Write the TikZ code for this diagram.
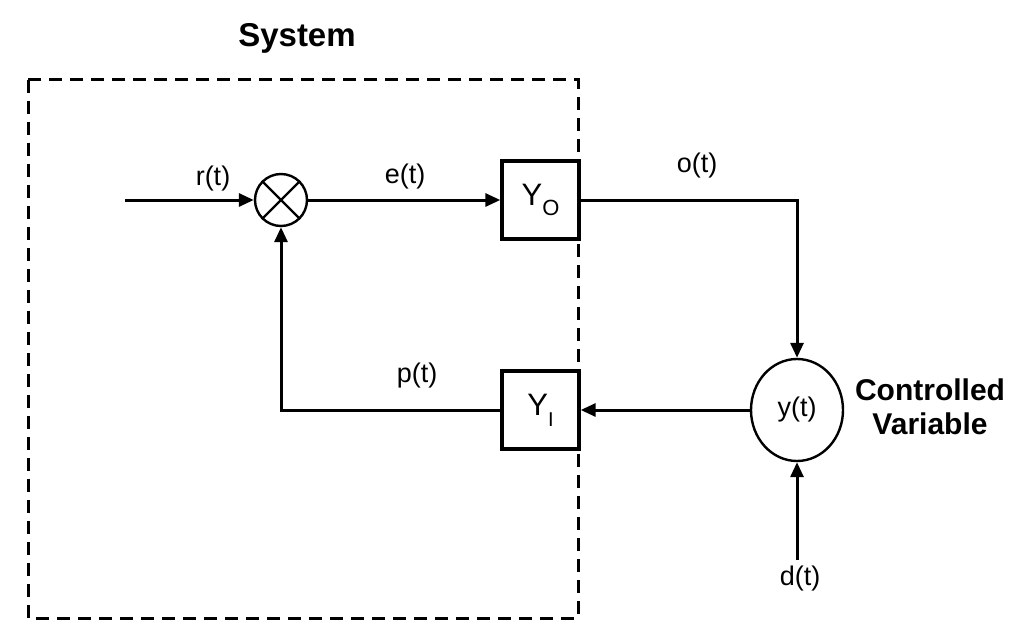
\documentclass[tikz,border=0pt]{standalone}
\usepackage{fontspec}
\setmainfont{Liberation Sans}
\usetikzlibrary{arrows.meta,shapes.geometric}
\begin{document}
\begin{tikzpicture}[x=1pt,y=-1pt,
  arr/.style={line width=3pt, -{Triangle[length=15pt,width=13pt]}},
  lbl/.style={font=\fontsize{27}{30}\selectfont, inner sep=0pt},
  bold/.style={font=\fontsize{30}{34}\selectfont\bfseries, inner sep=0pt, align=center},
  blk/.style={draw, line width=3.4pt, minimum width=77pt, minimum height=78pt, inner sep=0pt, font=\fontsize{31}{31}\selectfont}
]
\useasboundingbox (0,0) rectangle (1027,631);
\fill[white] (0,0) rectangle (1027,631);
% system box
\node[bold, font=\fontsize{33}{36}\selectfont\bfseries] (systitle) at (297,38) {System};
\draw[line width=3pt, dash pattern=on 13pt off 8pt] (28,80) rectangle (578,618);
% blocks
\node[draw, circle, line width=2.4pt, minimum size=52pt, inner sep=0pt] (sum) at (281,200) {};
\draw[line width=2.4pt] (sum.north west) -- (sum.south east) (sum.north east) -- (sum.south west);
\node[blk] (yo) at (540.5,200) {Y\raisebox{-0.35em}{\fontsize{22}{22}\selectfont O}};
\node[blk] (yi) at (540.5,410) {Y\raisebox{-0.35em}{\fontsize{20}{20}\selectfont I}};
\node[draw, ellipse, line width=2.4pt, minimum width=92pt, minimum height=102pt, inner sep=0pt, lbl] (y) at (797,410) {y(t)};
\node[bold] (cv) at (930,407) {Controlled\\Variable};
% coordinates
\coordinate (rin) at (125,200);
\coordinate (din) at (797,560);
\coordinate (c1) at (797,200);
\coordinate (c2) at (281,410);
% connectors
\draw[arr] (rin) -- (sum.west);
\draw[arr] (sum.east) -- (yo.west);
\draw[arr] (yo.east) -- (c1) -- (y.north);
\draw[arr] (din) -- (y.south);
\draw[arr] (y.west) -- (yi.east);
\draw[arr] (yi.west) -- (c2) -- (sum.south);
% labels
\node[lbl] (lr) at (213,179) {r(t)};
\node[lbl] (le) at (405,177) {e(t)};
\node[lbl] (lo) at (697,166) {o(t)};
\node[lbl] (lp) at (417,376) {p(t)};
\node[lbl] (ld) at (800,579) {d(t)};
\end{tikzpicture}
\end{document}
